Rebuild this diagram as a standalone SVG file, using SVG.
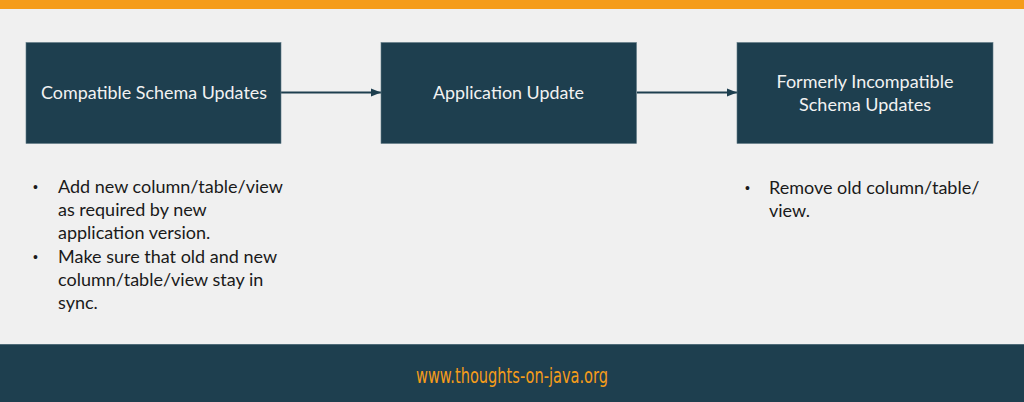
<svg xmlns="http://www.w3.org/2000/svg" width="1024" height="402" viewBox="0 0 1024 402">
<style>
.box{fill:#1e3f4f;stroke:#5f7a86;stroke-width:0.6}
.bt{font-family:Lato,"Open Sans","Liberation Sans",sans-serif;font-size:18px;fill:#f2f2f2;text-anchor:middle}
.bl{font-family:Lato,"Open Sans","Liberation Sans",sans-serif;font-size:18px;fill:#1a1a1a}
.dot{font-family:"Liberation Sans",sans-serif;font-size:14px;fill:#1a1a1a}
.conn{stroke:#1e3f4f;stroke-width:2;fill:none}
</style>
<defs>
<marker id="ah" viewBox="0 0 10 10" refX="10" refY="5" markerWidth="5" markerHeight="5" orient="auto" markerUnits="strokeWidth">
<path d="M0,1 L10,5 L0,9 z" fill="#1e3f4f"/>
</marker>
</defs>
<rect x="0" y="0" width="1024" height="402" fill="#f0f0f0"/>
<rect x="0" y="0" width="1024" height="9" fill="#f59c1a"/>
<g id="connectors">
<line class="conn" x1="281" y1="92.5" x2="381" y2="92.5" marker-end="url(#ah)"/>
<line class="conn" x1="637" y1="92.5" x2="737" y2="92.5" marker-end="url(#ah)"/>
</g>
<g id="node-compatible">
<rect class="box" x="26" y="42.5" width="255" height="101"/>
<text class="bt" x="154" y="99" textLength="226" lengthAdjust="spacingAndGlyphs">Compatible Schema Updates</text>
</g>
<g id="node-application">
<rect class="box" x="381" y="42.5" width="255.5" height="101"/>
<text class="bt" x="508.5" y="99" textLength="151" lengthAdjust="spacingAndGlyphs">Application Update</text>
</g>
<g id="node-formerly">
<rect class="box" x="737" y="42.5" width="256" height="101"/>
<text class="bt" x="865" y="88">Formerly Incompatible</text>
<text class="bt" x="865" y="111">Schema Updates</text>
</g>
<g id="notes-left">
<text class="dot" x="33" y="192">•</text>
<text class="bl" x="58" y="193">Add new column/table/view</text>
<text class="bl" x="58" y="216">as required by new</text>
<text class="bl" x="58" y="239">application version.</text>
<text class="dot" x="33" y="262">•</text>
<text class="bl" x="58" y="263">Make sure that old and new</text>
<text class="bl" x="58" y="286">column/table/view stay in</text>
<text class="bl" x="58" y="309">sync.</text>
</g>
<g id="notes-right">
<text class="dot" x="745" y="193">•</text>
<text class="bl" x="769" y="194">Remove old column/table/</text>
<text class="bl" x="769" y="217">view.</text>
</g>
<g id="footer">
<rect x="0" y="344" width="1024" height="58" fill="#1e3f4f"/>
<line x1="0" y1="344.5" x2="1024" y2="344.5" stroke="#4f6b78" stroke-width="1"/>
<text x="512" y="383" font-family="'DejaVu Sans Condensed','DejaVu Sans',sans-serif" font-stretch="condensed" font-weight="normal" font-size="22" fill="#f59c1a" text-anchor="middle" textLength="192" lengthAdjust="spacingAndGlyphs">www.thoughts-on-java.org</text>
</g>
</svg>
